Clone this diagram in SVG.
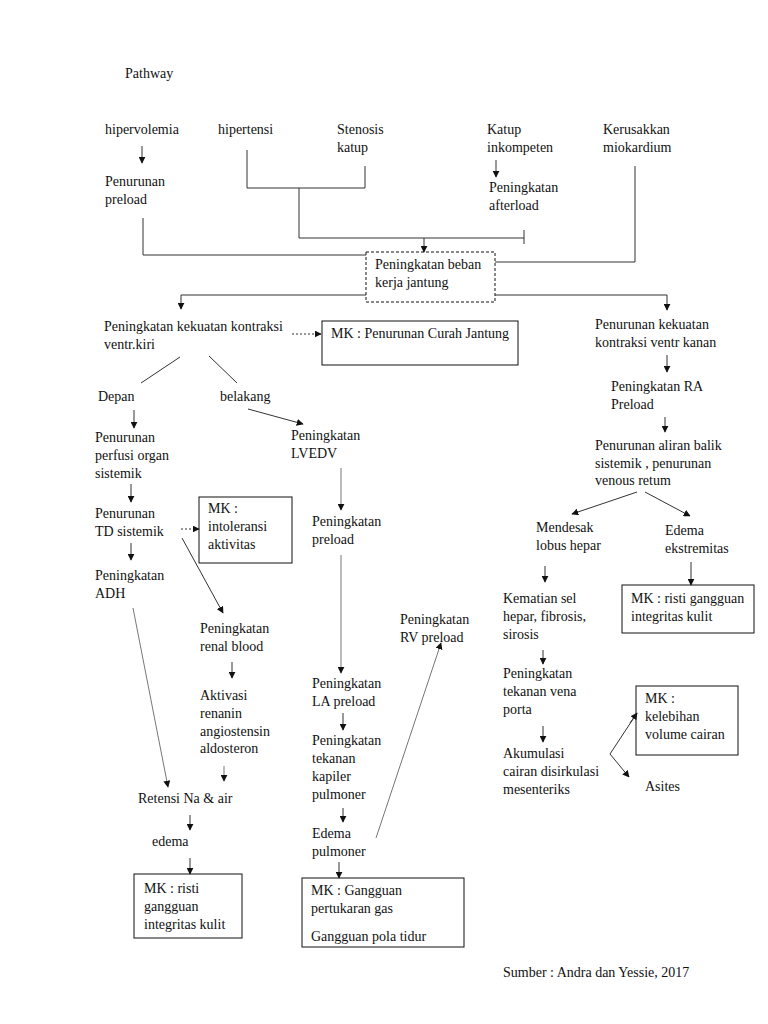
<svg xmlns="http://www.w3.org/2000/svg" width="768" height="1024" viewBox="0 0 768 1024" font-family="'Liberation Serif', 'Times New Roman', serif">
<style>
text{font-family:'Liberation Serif','DejaVu Serif',serif;font-size:14px;fill:#111}
.c line,.c polyline{stroke:#333;stroke-width:1;fill:none}
.a{marker-end:url(#ah)}
.d{stroke-dasharray:2,2}
.g{stroke:#777 !important}
.box{fill:none;stroke:#111;stroke-width:1}
.dbox{fill:none;stroke:#111;stroke-width:1;stroke-dasharray:3,2}
</style>
<defs>
<marker id="ah" viewBox="0 0 10 10" refX="9" refY="5" markerWidth="7" markerHeight="7" markerUnits="userSpaceOnUse" orient="auto">
<path d="M0,0 L10,5 L0,10 z" fill="#111"/>
</marker>
</defs>
<rect width="768" height="1024" fill="#fff"/>
<text x="125" y="78">Pathway</text>

<g id="n-hipervolemia"><text x="105" y="134">hipervolemia</text></g>
<g id="n-penurunan-preload"><text x="105" y="186">Penurunan</text><text x="105" y="204">preload</text></g>
<g id="n-hipertensi"><text x="218" y="134">hipertensi</text></g>
<g id="n-stenosis"><text x="337" y="134">Stenosis</text><text x="337" y="152">katup</text></g>
<g id="n-katup"><text x="487" y="134">Katup</text><text x="487" y="152">inkompeten</text></g>
<g id="n-afterload"><text x="489" y="192">Peningkatan</text><text x="489" y="210">afterload</text></g>
<g id="n-kerusakkan"><text x="603" y="134">Kerusakkan</text><text x="603" y="152">miokardium</text></g>
<g id="n-beban"><rect class="dbox" x="366" y="252" width="129" height="50"/><text x="375" y="269">Peningkatan beban</text><text x="375" y="287">kerja jantung</text></g>

<g id="n-kontraksi-kiri"><text x="104" y="331">Peningkatan kekuatan kontraksi</text><text x="104" y="349">ventr.kiri</text></g>
<g id="n-mk-curah"><rect class="box" x="322" y="321" width="196" height="44"/><text x="331" y="338">MK : Penurunan Curah Jantung</text></g>
<g id="n-depan"><text x="98" y="401">Depan</text></g>
<g id="n-belakang"><text x="220" y="401">belakang</text></g>
<g id="n-perfusi"><text x="95" y="442">Penurunan</text><text x="95" y="460">perfusi organ</text><text x="95" y="478">sistemik</text></g>
<g id="n-lvedv"><text x="291" y="440">Peningkatan</text><text x="291" y="458">LVEDV</text></g>
<g id="n-td"><text x="95" y="518">Penurunan</text><text x="95" y="536">TD sistemik</text></g>
<g id="n-mk-intoleransi"><rect class="box" x="199" y="497" width="93" height="66"/><text x="208" y="513">MK :</text><text x="208" y="531">intoleransi</text><text x="208" y="549">aktivitas</text></g>
<g id="n-preload"><text x="312" y="526">Peningkatan</text><text x="312" y="544">preload</text></g>
<g id="n-adh"><text x="95" y="580">Peningkatan</text><text x="95" y="598">ADH</text></g>
<g id="n-renal"><text x="200" y="633">Peningkatan</text><text x="200" y="651">renal blood</text></g>
<g id="n-raa"><text x="200" y="700">Aktivasi</text><text x="200" y="718">renanin</text><text x="200" y="736">angiostensin</text><text x="200" y="753">aldosteron</text></g>
<g id="n-retensi"><text x="138" y="803">Retensi Na &amp; air</text></g>
<g id="n-edema"><text x="152" y="846">edema</text></g>
<g id="n-mk-kulit1"><rect class="box" x="134" y="874" width="108" height="64"/><text x="144" y="893">MK : risti</text><text x="144" y="911">gangguan</text><text x="144" y="929">integritas kulit</text></g>

<g id="n-la"><text x="312" y="688">Peningkatan</text><text x="312" y="706">LA preload</text></g>
<g id="n-kapiler"><text x="312" y="745">Peningkatan</text><text x="312" y="763">tekanan</text><text x="312" y="781">kapiler</text><text x="312" y="799">pulmoner</text></g>
<g id="n-edema-pulmoner"><text x="312" y="838">Edema</text><text x="312" y="856">pulmoner</text></g>
<g id="n-mk-gas"><rect class="box" x="302" y="878" width="162" height="69"/><text x="311" y="895">MK : Gangguan</text><text x="311" y="913">pertukaran gas</text><text x="311" y="941">Gangguan pola tidur</text></g>
<g id="n-rv"><text x="400" y="624">Peningkatan</text><text x="400" y="642">RV preload</text></g>

<g id="n-kontraksi-kanan"><text x="595" y="329">Penurunan kekuatan</text><text x="595" y="347">kontraksi ventr kanan</text></g>
<g id="n-ra"><text x="611" y="391">Peningkatan RA</text><text x="611" y="409">Preload</text></g>
<g id="n-aliran"><text x="595" y="450">Penurunan aliran balik</text><text x="595" y="468">sistemik , penurunan</text><text x="595" y="485">venous retum</text></g>
<g id="n-mendesak"><text x="536" y="532">Mendesak</text><text x="536" y="550">lobus hepar</text></g>
<g id="n-edema-ekstremitas"><text x="665" y="535">Edema</text><text x="665" y="553">ekstremitas</text></g>
<g id="n-kematian"><text x="503" y="603">Kematian sel</text><text x="503" y="621">hepar, fibrosis,</text><text x="503" y="639">sirosis</text></g>
<g id="n-mk-kulit2"><rect class="box" x="622" y="585" width="132" height="48"/><text x="631" y="603">MK : risti gangguan</text><text x="631" y="621">integritas kulit</text></g>
<g id="n-porta"><text x="503" y="678">Peningkatan</text><text x="503" y="696">tekanan vena</text><text x="503" y="714">porta</text></g>
<g id="n-akumulasi"><text x="503" y="758">Akumulasi</text><text x="503" y="776">cairan disirkulasi</text><text x="503" y="794">mesenteriks</text></g>
<g id="n-mk-volume"><rect class="box" x="636" y="686" width="102" height="69"/><text x="645" y="703">MK :</text><text x="645" y="721">kelebihan</text><text x="645" y="739">volume cairan</text></g>
<g id="n-asites"><text x="645" y="791">Asites</text></g>

<text x="503" y="977">Sumber : Andra dan Yessie, 2017</text>

<g id="connectors" class="c">
<line class="a" x1="142" y1="146" x2="142" y2="163"/>
<polyline points="247,150 247,188 365,188 365,166"/>
<polyline points="299,188 299,238 524,238"/>
<line x1="524" y1="230" x2="524" y2="244"/>
<line class="a" x1="424" y1="238" x2="424" y2="252"/>
<line class="a" x1="496" y1="160" x2="496" y2="177"/>
<polyline points="143,218 143,255 366,255"/>
<polyline points="635,166 635,262 495,262"/>
<line x1="181" y1="295" x2="366" y2="295"/>
<line class="a" x1="181" y1="295" x2="181" y2="309"/>
<line x1="495" y1="295" x2="667" y2="295"/>
<line class="a" x1="667" y1="295" x2="667" y2="310"/>
<line class="a d" x1="292" y1="334" x2="321" y2="334"/>
<line x1="180" y1="357" x2="141" y2="383"/>
<line x1="209" y1="356" x2="237" y2="383"/>
<line class="a" x1="134" y1="410" x2="134" y2="428"/>
<line class="a" x1="248" y1="409" x2="303" y2="424"/>
<line class="a" x1="131" y1="484" x2="131" y2="502"/>
<line class="a d" x1="181" y1="529" x2="199" y2="529"/>
<line class="a g" x1="341" y1="468" x2="341" y2="510"/>
<line class="a" x1="131" y1="543" x2="131" y2="560"/>
<line class="a" x1="182" y1="538" x2="223" y2="613"/>
<line class="a" x1="232" y1="662" x2="232" y2="678"/>
<line class="a g" x1="224" y1="766" x2="224" y2="781"/>
<line class="a g" x1="133" y1="608" x2="168" y2="787"/>
<line class="a" x1="190" y1="815" x2="190" y2="830"/>
<line class="a" x1="190" y1="858" x2="190" y2="874"/>
<line class="a g" x1="341" y1="555" x2="341" y2="673"/>
<line class="a" x1="343" y1="713" x2="343" y2="730"/>
<line class="a" x1="343" y1="808" x2="343" y2="822"/>
<line class="a" x1="339" y1="862" x2="339" y2="878"/>
<line class="a g" x1="376" y1="838" x2="441" y2="643"/>
<line class="a" x1="667" y1="355" x2="667" y2="372"/>
<line class="a" x1="665" y1="417" x2="665" y2="432"/>
<line class="a" x1="637" y1="492" x2="572" y2="514"/>
<line class="a" x1="645" y1="492" x2="690" y2="516"/>
<line class="a" x1="545" y1="566" x2="545" y2="582"/>
<line class="a" x1="691" y1="562" x2="691" y2="585"/>
<line class="a" x1="543" y1="650" x2="543" y2="664"/>
<line class="a" x1="543" y1="726" x2="543" y2="742"/>
<polyline points="637,713 610,754 629,777"/>
<line class="a" x1="630" y1="723" x2="637" y2="713"/>
<line class="a" x1="624" y1="771" x2="629" y2="777"/>
</g>
</svg>
